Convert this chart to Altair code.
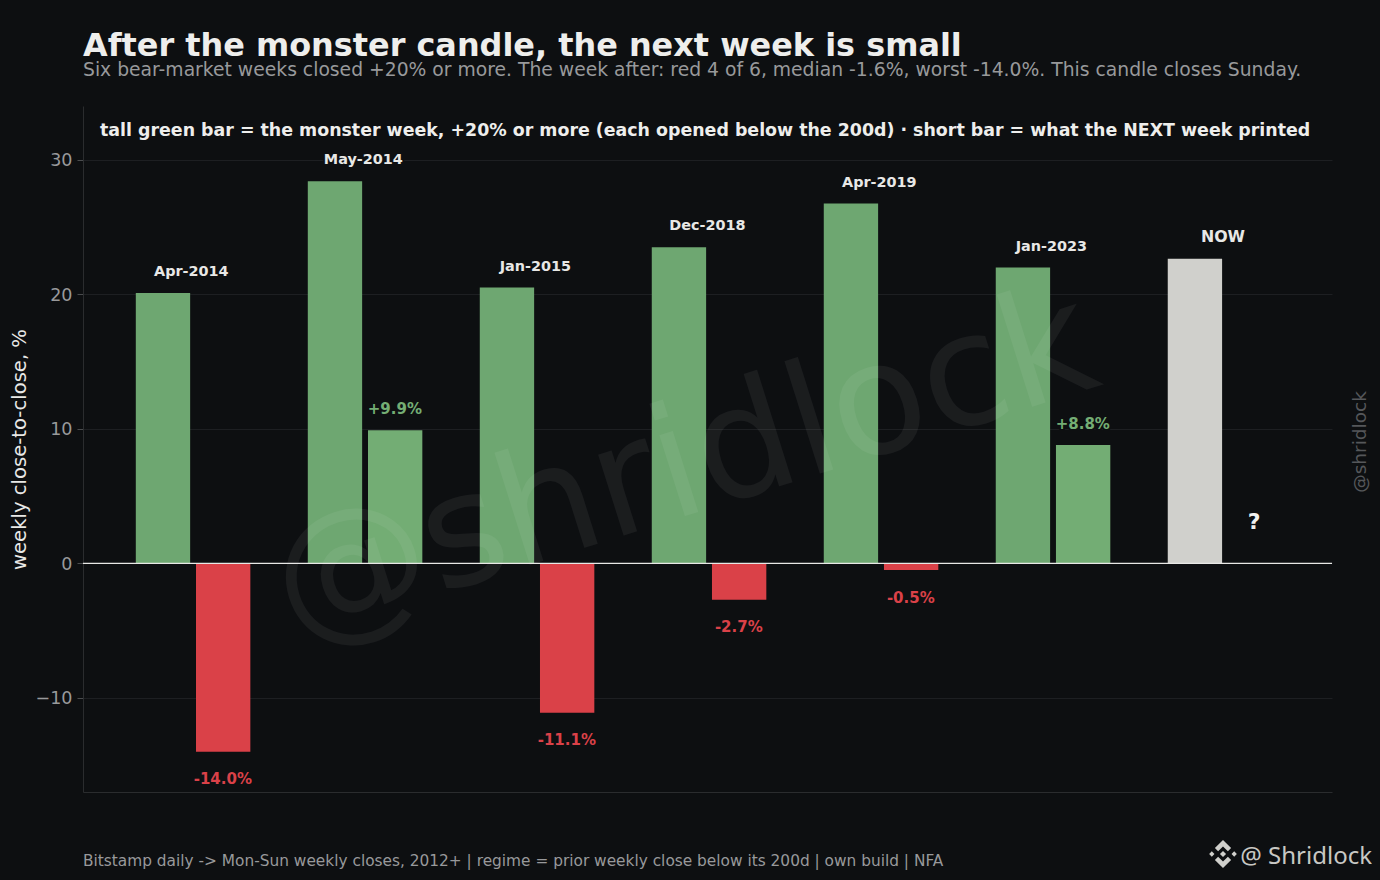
import altair as alt
import pandas as pd

BG = "#0d0f11"
FONT = "DejaVu Sans"

months = ["Apr-2014", "May-2014", "Jan-2015", "Dec-2018", "Apr-2019", "Jan-2023", "NOW"]
monster = [20.1, 28.4, 20.5, 23.5, 26.75, 22.0, 22.65]
next_week = [-14.0, 9.9, -11.1, -2.7, -0.5, 8.8]
next_labels = ["-14.0%", "+9.9%", "-11.1%", "-2.7%", "-0.5%", "+8.8%"]
y_ticks = [-10, 0, 10, 20, 30]

OFFSET = 0.175
HALF = 0.158
GREEN_TALL = "#6ea771"
GREEN_SHORT = "#73ad74"
GREY = "#d0d0cc"
RED = "#da4148"
LABEL_GREEN = "#74ad74"
LABEL_RED = "#da4148"

rows = []
for i, (m, v) in enumerate(zip(months, monster)):
    rows.append(dict(x0=i - OFFSET - HALF, x1=i - OFFSET + HALF, y0=0, y1=v,
                     fill=GREY if m == "NOW" else GREEN_TALL))
for i, v in enumerate(next_week):
    rows.append(dict(x0=i + OFFSET - HALF, x1=i + OFFSET + HALF, y0=0, y1=v,
                     fill=GREEN_SHORT if v > 0 else RED))
bars_df = pd.DataFrame(rows)

month_df = pd.DataFrame(dict(
    x=[i - 0.01 for i in range(6)], y=[v + 1.55 for v in monster[:6]], t=months[:6]))
now_df = pd.DataFrame(dict(x=[6 - 0.012], y=[monster[6] + 1.6], t=["NOW"]))
next_df = pd.DataFrame(dict(
    x=[i + OFFSET - 0.002 for i in range(6)],
    y=[v + 1.55 if v > 0 else v - 2.05 for v in next_week],
    t=next_labels,
    c=[LABEL_GREEN if v > 0 else LABEL_RED for v in next_week]))
q_df = pd.DataFrame(dict(x=[6 + OFFSET - 0.006], y=[3.08], t=["?"]))

X_SCALE = alt.Scale(domain=[-0.64, 6.622], nice=False, zero=False)
Y_SCALE = alt.Scale(domain=[-17, 34], nice=False, zero=False)
X_AXIS = alt.Axis(labels=False, ticks=False, grid=False, title=None, domain=True,
                  domainColor="#2a2c2e", domainWidth=1)
Y_AXIS = alt.Axis(values=y_ticks, grid=True, gridColor="#1d1f22", gridWidth=1,
                  domain=True, domainColor="#2a2c2e", domainWidth=1,
                  tickColor="#4a4c4e", tickSize=6, labelColor="#98999b",
                  labelFontSize=17.5, labelPadding=5, labelOffset=1, labelFont=FONT,
                  labelFontWeight="normal",
                  title="weekly close-to-close, %", titleColor="#e8e8e6", titleFontSize=19.6,
                  titleFont=FONT, titleFontWeight="normal", titlePadding=6)


def xenc(f="x"):
    return alt.X(f"{f}:Q", scale=X_SCALE, axis=X_AXIS)


def yenc(f="y"):
    return alt.Y(f"{f}:Q", scale=Y_SCALE, axis=Y_AXIS)


bars = alt.Chart(bars_df).mark_rect(strokeWidth=0).encode(
    x=xenc("x0"), x2="x1:Q", y=yenc("y0"), y2="y1:Q",
    color=alt.Color("fill:N", scale=None),
)

watermark = alt.Chart(pd.DataFrame(dict(t=["@shridlock"]))).mark_text(
    font=FONT, fontSize=155, angle=342.5, color="#ffffff", opacity=0.055,
    align="center", baseline="alphabetic"
).encode(x=alt.value(615), y=alt.value(406), text="t:N")

zero = alt.Chart(pd.DataFrame(dict(y=[0]))).mark_rule(color="#e8e8e6", strokeWidth=1.3).encode(y=yenc())


def txt(df, size, color=None):
    halo = alt.Chart(df).mark_text(font=FONT, fontSize=size, fontWeight="bold", stroke=BG, strokeWidth=4,
                                   align="center", baseline="middle").encode(x=xenc(), y=yenc(), text="t:N")
    kw = dict(font=FONT, fontSize=size, fontWeight="bold", align="center", baseline="middle")
    if color is None:
        top = alt.Chart(df).mark_text(**kw).encode(
            x=xenc(), y=yenc(), text="t:N", color=alt.Color("c:N", scale=None))
    else:
        top = alt.Chart(df).mark_text(color=color, **kw).encode(x=xenc(), y=yenc(), text="t:N")
    return halo + top


def note(t, x, y, size, color, weight="normal", align="left", angle=None, font=FONT):
    kw = dict(font=font, fontSize=size, color=color, fontWeight=weight, align=align, baseline="middle")
    if angle is not None:
        kw["angle"] = angle
    return alt.Chart(pd.DataFrame(dict(t=[t]))).mark_text(**kw).encode(
        x=alt.value(x), y=alt.value(y), text="t:N")


LOGO_PATH = ("M0,-0.22L0.22,0L0,0.22L-0.22,0Z "
             "M-0.8,-0.19L-0.61,0L-0.8,0.19L-0.99,0Z "
             "M0.8,-0.19L0.99,0L0.8,0.19L0.61,0Z "
             "M0,-1L0.58,-0.42L0.35,-0.19L0,-0.54L-0.35,-0.19L-0.58,-0.42Z "
             "M0,1L0.58,0.42L0.35,0.19L0,0.54L-0.35,0.19L-0.58,0.42Z")
logo = alt.Chart(pd.DataFrame(dict(a=[0]))).mark_point(
    shape=LOGO_PATH, filled=True, fill=GREY, strokeWidth=0, opacity=1, size=784
).encode(x=alt.value(1140), y=alt.value(748))

layers = [
    bars, watermark, zero,
    txt(month_df, 14.4, "#e8e8e6"),
    txt(now_df, 15.8, "#e8e8e6"),
    txt(next_df, 15),
    txt(q_df, 22, "#f0f0ee"),
    note("After the monster candle, the next week is small", 0, -60, 31.9, "#eeeeec", "bold"),
    note("Six bear-market weeks closed +20% or more. The week after: red 4 of 6, median -1.6%, worst -14.0%. This candle closes Sunday.",
         0, -36, 18.75, "#98999b"),
    note("tall green bar = the monster week, +20% or more (each opened below the 200d) \u00b7 short bar = what the NEXT week printed",
         17, 25, 17.4, "#eeeeec", "bold"),
    note("Bitstamp daily -> Mon-Sun weekly closes, 2012+ | regime = prior weekly close below its 200d | own build | NFA",
         0, 755, 15.36, "#98999b"),
    note("@shridlock", 1277, 336, 18.5, "#55575a", angle=270, align="center"),
    logo,
    note("@ Shridlock", 1289, 750.5, 24, "#c8c8c4", align="right", font="Noto Sans"),
]

chart = alt.layer(*layers).properties(
    width=1249, height=686, background=BG,
    padding=dict(left=75, top=98, right=40, bottom=80),
    autosize=alt.AutoSizeParams(type="none"),
).configure_view(stroke=None)

chart.save("out.html", embed_options={"renderer": "svg", "actions": False,
                                      "defaultStyle": "html,body{background:#0d0f11;overflow:hidden}"})
